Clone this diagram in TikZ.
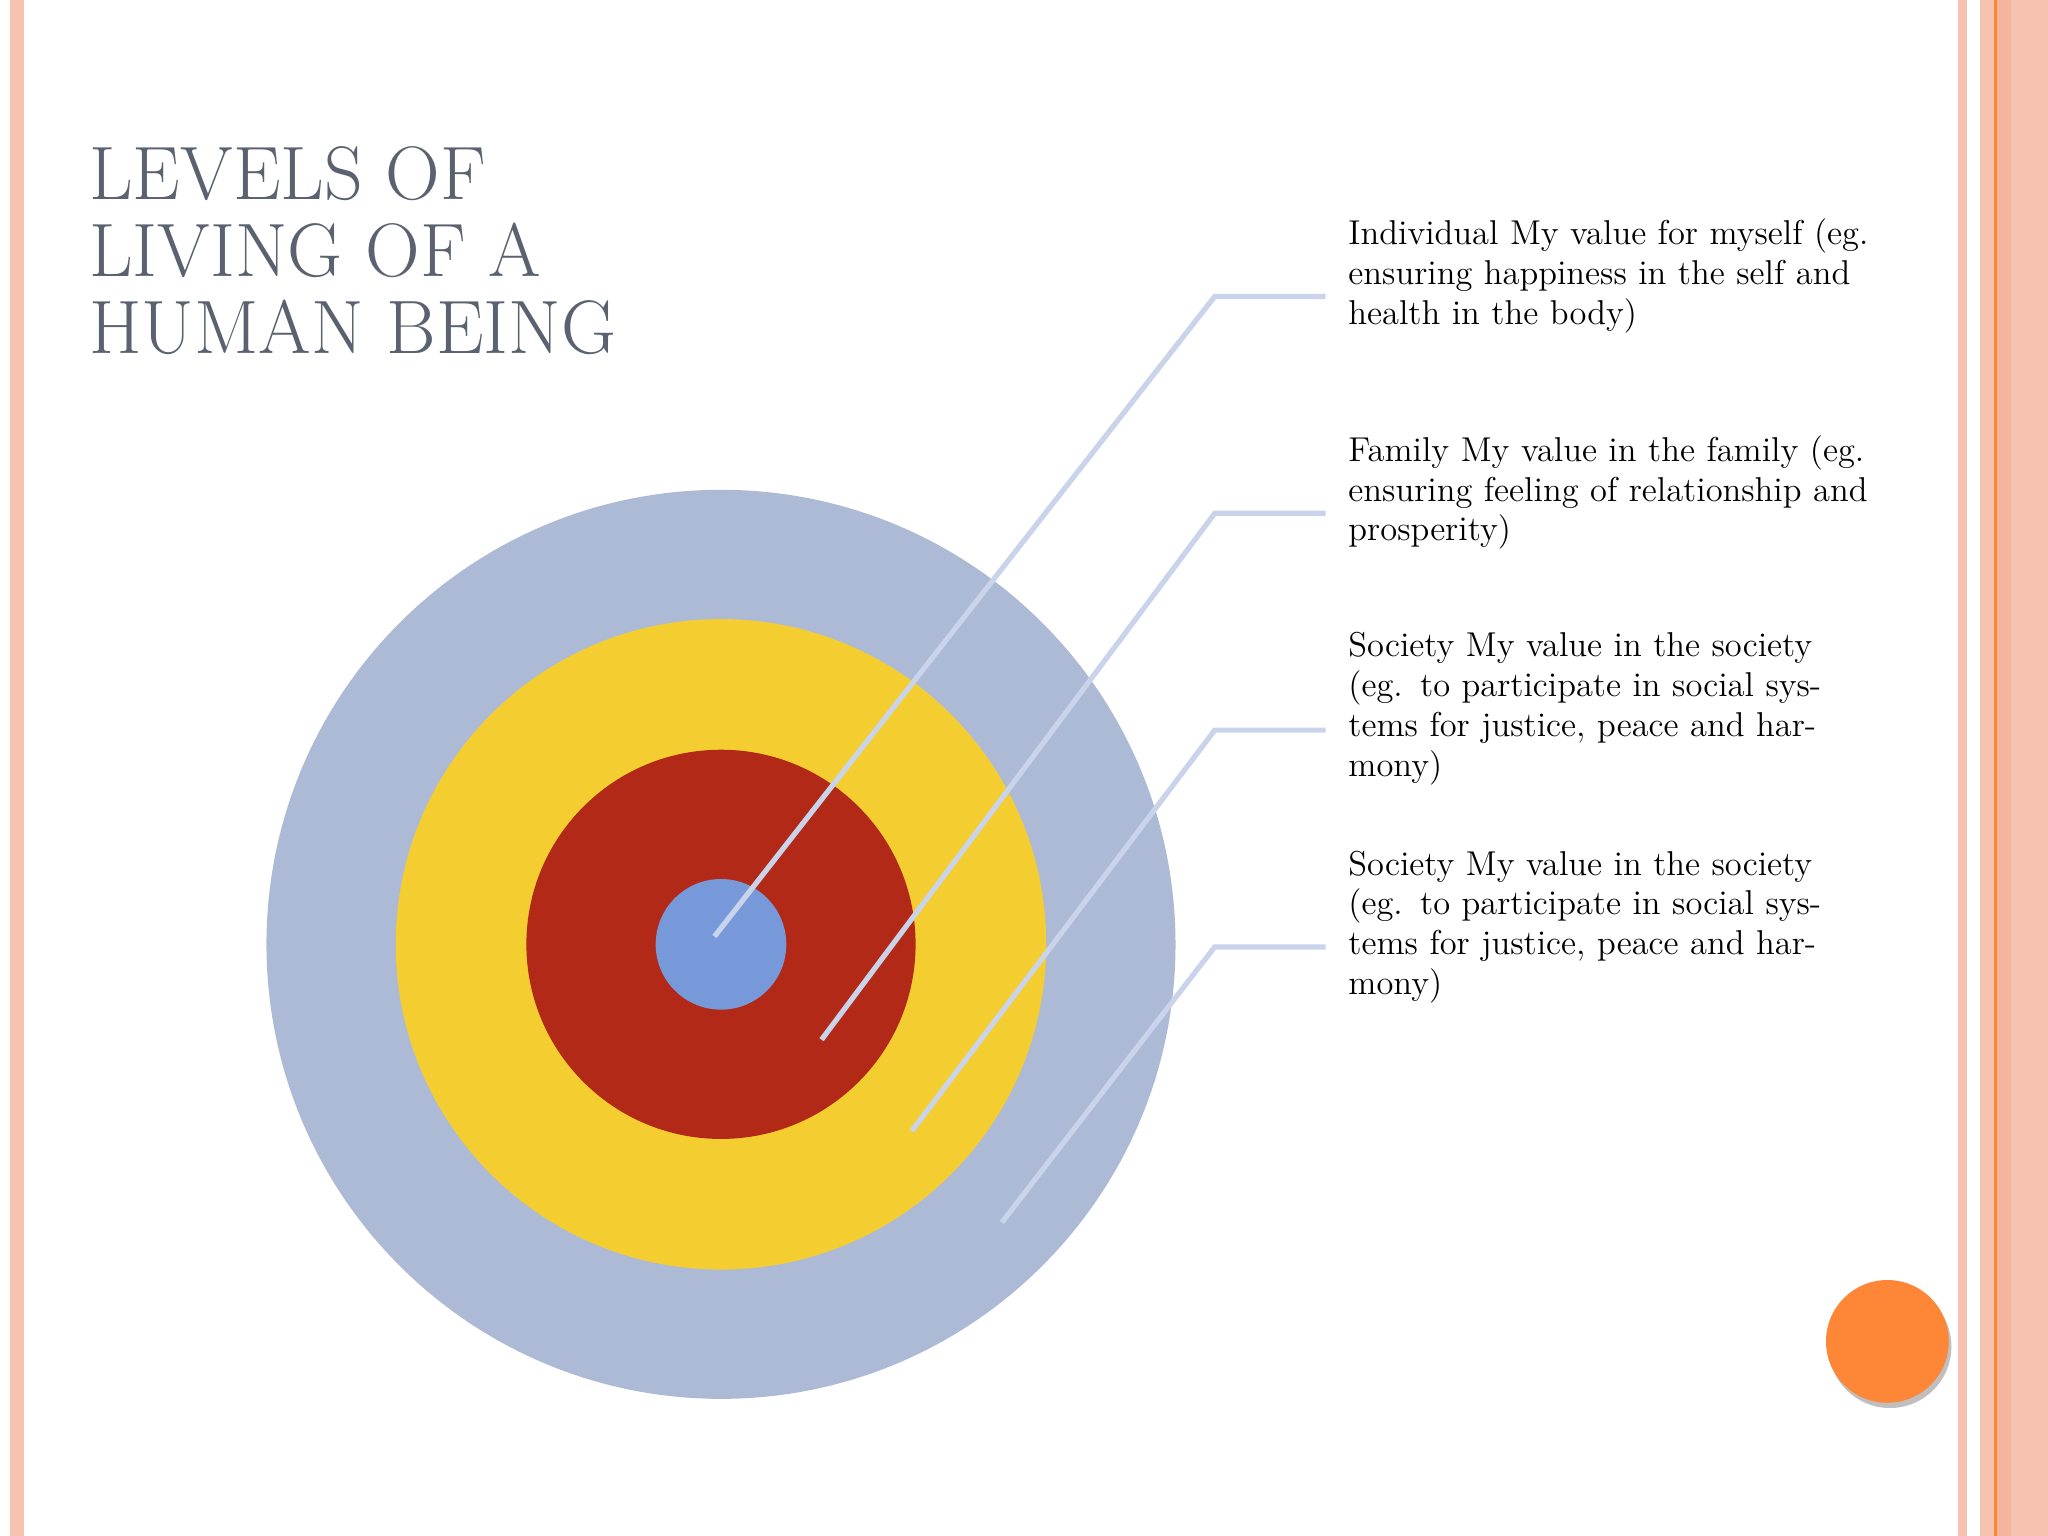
\documentclass[tikz,border=0pt]{standalone}
\definecolor{salmon}{HTML}{F6C3B0}
\definecolor{salmon2}{HTML}{F3B59E}
\definecolor{orng}{HTML}{FE8637}
\definecolor{outer}{HTML}{ADBAD6}
\definecolor{yel}{HTML}{F4CE30}
\definecolor{redc}{HTML}{B22A17}
\definecolor{inner}{HTML}{7799DA}
\definecolor{callout}{HTML}{C9D3EA}
\definecolor{titlec}{HTML}{5A6270}
\tikzset{lead/.style={draw=callout,line width=2pt},
 lbl/.style={anchor=north west,align=left,inner sep=0pt,font=\fontsize{13.2}{15.25}\selectfont,text width=200pt}}
\begin{document}
\begin{tikzpicture}[x=0.5pt,y=-0.5pt]
\useasboundingbox (0,0) rectangle (1568,1176);
\fill[white] (0,0) rectangle (1568,1176);
\fill[salmon] (8,0) rectangle (18,1176);
\fill[salmon] (1499,0) rectangle (1506,1176);
\fill[salmon] (1516,0) rectangle (1568,1176);
\fill[salmon2] (1527,0) rectangle (1540,1176);
\fill[orng] (1527,0) rectangle (1529,1176);
\node[anchor=north west,align=left,inner sep=0pt,text=titlec,font=\fontsize{29}{29.5}\selectfont] (title) at (68,112) {LEVELS OF\\LIVING OF A\\HUMAN BEING};
\node[circle,fill=outer,minimum size=696*0.5pt,inner sep=0pt] (c4) at (552,723) {};
\node[circle,fill=yel,minimum size=498*0.5pt,inner sep=0pt] (c3) at (552,723) {};
\node[circle,fill=redc,minimum size=298*0.5pt,inner sep=0pt] (c2) at (552,723) {};
\node[circle,fill=inner,minimum size=100*0.5pt,inner sep=0pt] (c1) at (552,723) {};
\coordinate (e1) at (547,717); \coordinate (e2) at (629,796);
\coordinate (e3) at (698,866); \coordinate (e4) at (767,936);
\coordinate (k1) at (930,227); \coordinate (k2) at (930,393);
\coordinate (k3) at (930,559); \coordinate (k4) at (930,725);
\coordinate (t1) at (1015,227); \coordinate (t2) at (1015,393);
\coordinate (t3) at (1015,559); \coordinate (t4) at (1015,725);
\draw[lead] (e1) -- (k1) -- (t1);
\draw[lead] (e2) -- (k2) -- (t2);
\draw[lead] (e3) -- (k3) -- (t3);
\draw[lead] (e4) -- (k4) -- (t4);
\node[lbl] (l1) at (1032,167) {Individual My value for myself (eg. ensuring happiness in the self and health in the body)};
\node[lbl] (l2) at (1032,333) {Family My value in the family (eg. ensuring feeling of relationship and prosperity)};
\node[lbl] (l3) at (1032,484) {Society My value in the society (eg. to participate in social systems for justice, peace and harmony)};
\node[lbl] (l4) at (1032,651) {Society My value in the society (eg. to participate in social systems for justice, peace and harmony)};
\fill[black!25] (1447,1031) circle (47);
\node[circle,fill=orng,minimum size=94*0.5pt,inner sep=0pt] (dot) at (1445,1027) {};
\end{tikzpicture}
\end{document}
